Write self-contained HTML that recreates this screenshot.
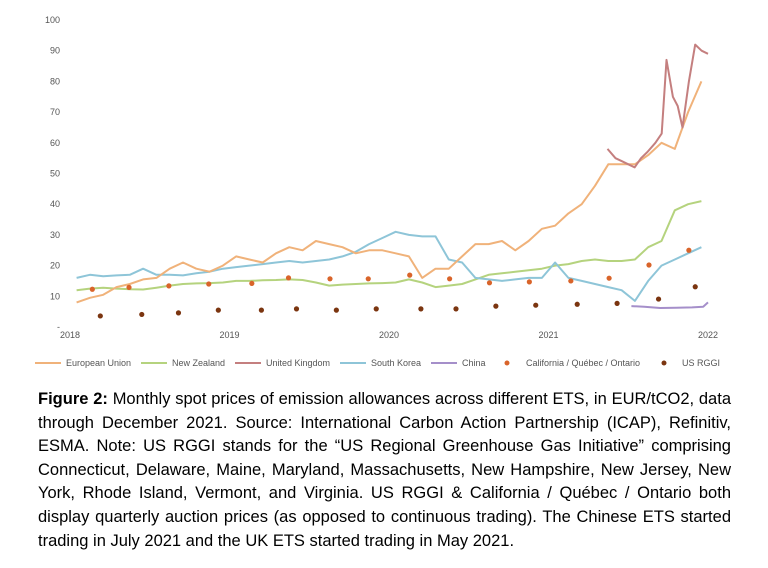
<!DOCTYPE html>
<html><head><meta charset="utf-8">
<style>
body{margin:0;background:#fff;width:768px;height:568px;overflow:hidden;font-family:"Liberation Sans",sans-serif;}
#chart{position:absolute;left:0;top:0;}
.lg{position:absolute;top:357px;font-size:9px;line-height:12px;color:#555;white-space:nowrap;}
#caption{position:absolute;left:38px;top:388px;width:693px;font-size:16.5px;line-height:23.6px;color:#000;text-align:justify;}
</style></head><body>
<svg id="chart" width="768" height="380" xmlns="http://www.w3.org/2000/svg"></svg>
<div>
<svg width="768" height="380" style="position:absolute;left:0;top:0">
<line x1="35" y1="363" x2="61" y2="363" stroke="#f0b27a" stroke-width="2"/>
<line x1="141" y1="363" x2="167" y2="363" stroke="#b5d37e" stroke-width="2"/>
<line x1="235" y1="363" x2="261" y2="363" stroke="#c47f7f" stroke-width="2"/>
<line x1="340" y1="363" x2="366" y2="363" stroke="#8ec5d8" stroke-width="2"/>
<line x1="431" y1="363" x2="457" y2="363" stroke="#a58fca" stroke-width="2"/>
<circle cx="507" cy="363" r="2.5" fill="#d9642a"/>
<circle cx="664" cy="363" r="2.5" fill="#7b3510"/>
</svg>
<span class="lg" style="left:66px">European Union</span>
<span class="lg" style="left:172px">New Zealand</span>
<span class="lg" style="left:266px">United Kingdom</span>
<span class="lg" style="left:371px">South Korea</span>
<span class="lg" style="left:462px">China</span>
<span class="lg" style="left:526px">California / Québec / Ontario</span>
<span class="lg" style="left:682px">US RGGI</span>
</div>
<div id="caption"><b>Figure 2:</b> Monthly spot prices of emission allowances across different ETS, in EUR/tCO2, data through December 2021. Source: International Carbon Action Partnership (ICAP), Refinitiv, ESMA. Note: US RGGI stands for the “US Regional Greenhouse Gas Initiative” comprising Connecticut, Delaware, Maine, Maryland, Massachusetts, New Hampshire, New Jersey, New York, Rhode Island, Vermont, and Virginia. US RGGI &amp; California / Québec / Ontario both display quarterly auction prices (as opposed to continuous trading). The Chinese ETS started trading in July 2021 and the UK ETS started trading in May 2021.</div>
<script>
const yTicks=[0,10,20,30,40,50,60,70,80,90,100];
const yTickLabels=["-","10","20","30","40","50","60","70","80","90","100"];
const xTicks=[2018,2019,2020,2021,2022];
const monthly=[];for(let i=0;i<48;i++)monthly.push(2018+(i+0.5)/12);
const euValues=[8,9.5,10.5,13,14,15.5,16,19,21,19,18,20, 23,22,21,24,26,25,28,27,26,24,25,25, 24,23,16,19,19,23,27,27,28,25,28,32, 33,37,40,46,53,53,53,56,60,58,70,80];
const nzValues=[12,12.5,12.8,12.5,12.3,12.2,12.8,13.5,14,14.2,14.3,14.5, 15,15,15.2,15.3,15.5,15.3,14.5,13.5,13.8,14,14.2,14.3, 14.5,15.5,14.5,13,13.5,14,15.5,17,17.5,18,18.5,19, 20,20.5,21.5,22,21.5,21.5,22,26,28,38,40,41];
const krValues=[16,17,16.5,16.8,17,19,17,17,16.8,17.5,18,19, 19.5,20,20.5,21,21.5,21,21.5,22,23,24.5,27,29, 31,30,29.5,29.5,22,21,16,15.5,15,15.5,16,16, 21,16,15,14,13,12,8.5,15,20,22,24,26];
const ukDates=[2021.37,2021.42,2021.46,2021.5,2021.54,2021.58,2021.62,2021.67,2021.71,2021.74,2021.78,2021.81,2021.84,2021.88,2021.92,2021.96,2022];
const ukValues=[58,55,54,53,52,55,57,60,63,87,75,72,65,80,92,90,89];
const cnDates=[2021.52,2021.6,2021.7,2021.8,2021.9,2021.97,2022];
const cnValues=[6.8,6.6,6.2,6.3,6.4,6.6,8];
const caDates=[2018.14,2018.37,2018.62,2018.87,2019.14,2019.37,2019.63,2019.87,2020.13,2020.38,2020.63,2020.88,2021.14,2021.38,2021.63,2021.88];
const caValues=[12.3,12.9,13.4,14,14.2,16,15.7,15.7,16.9,15.7,14.4,14.7,15,15.9,20.2,25];
const rgDates=[2018.19,2018.45,2018.68,2018.93,2019.2,2019.42,2019.67,2019.92,2020.2,2020.42,2020.67,2020.92,2021.18,2021.43,2021.69,2021.92];
const rgValues=[3.6,4.1,4.6,5.5,5.5,5.9,5.5,5.9,5.9,5.9,6.8,7.1,7.4,7.7,9.1,13.1];

const svg=document.getElementById('chart');
const NS='http://www.w3.org/2000/svg';
function xS(t){return 70+(t-2018)*159.5;}
function yS(v){return 327-v*3.07;}
function mk(tag,attrs){const e=document.createElementNS(NS,tag);for(const k in attrs)e.setAttribute(k,attrs[k]);svg.appendChild(e);return e;}
yTicks.forEach((v,i)=>{
  const t=mk('text',{x:60,y:yS(v)+3,'text-anchor':'end','font-size':'9','fill':'#555','font-family':'Liberation Sans'});
  t.textContent=yTickLabels[i];
  
  
});
xTicks.forEach(v=>{
  const t=mk('text',{x:xS(v),y:338,'text-anchor':'middle','font-size':'9','fill':'#555','font-family':'Liberation Sans'});
  t.textContent=String(v);
  
  
});
function line(dates,vals,color,name){
  const d=dates.map((t,i)=>(i?'L':'M')+xS(t).toFixed(1)+' '+yS(vals[i]).toFixed(1)).join(' ');
  const p=mk('path',{d:d,fill:'none',stroke:color,'stroke-width':'2','stroke-linejoin':'round'});
  
  
}
line(monthly,nzValues,'#b5d37e','new-zealand-line');
line(monthly,krValues,'#8ec5d8','south-korea-line');
line(monthly,euValues,'#f0b27a','european-union-line');
line(ukDates,ukValues,'#c47f7f','united-kingdom-line');
line(cnDates,cnValues,'#a58fca','china-line');
caDates.forEach((t,i)=>{
  const c=mk('circle',{cx:xS(t),cy:yS(caValues[i]),r:2.6,fill:'#d9642a'});
  
  
});
rgDates.forEach((t,i)=>{
  const c=mk('circle',{cx:xS(t),cy:yS(rgValues[i]),r:2.6,fill:'#7b3510'});
  
  
});
</script>
</body></html>
